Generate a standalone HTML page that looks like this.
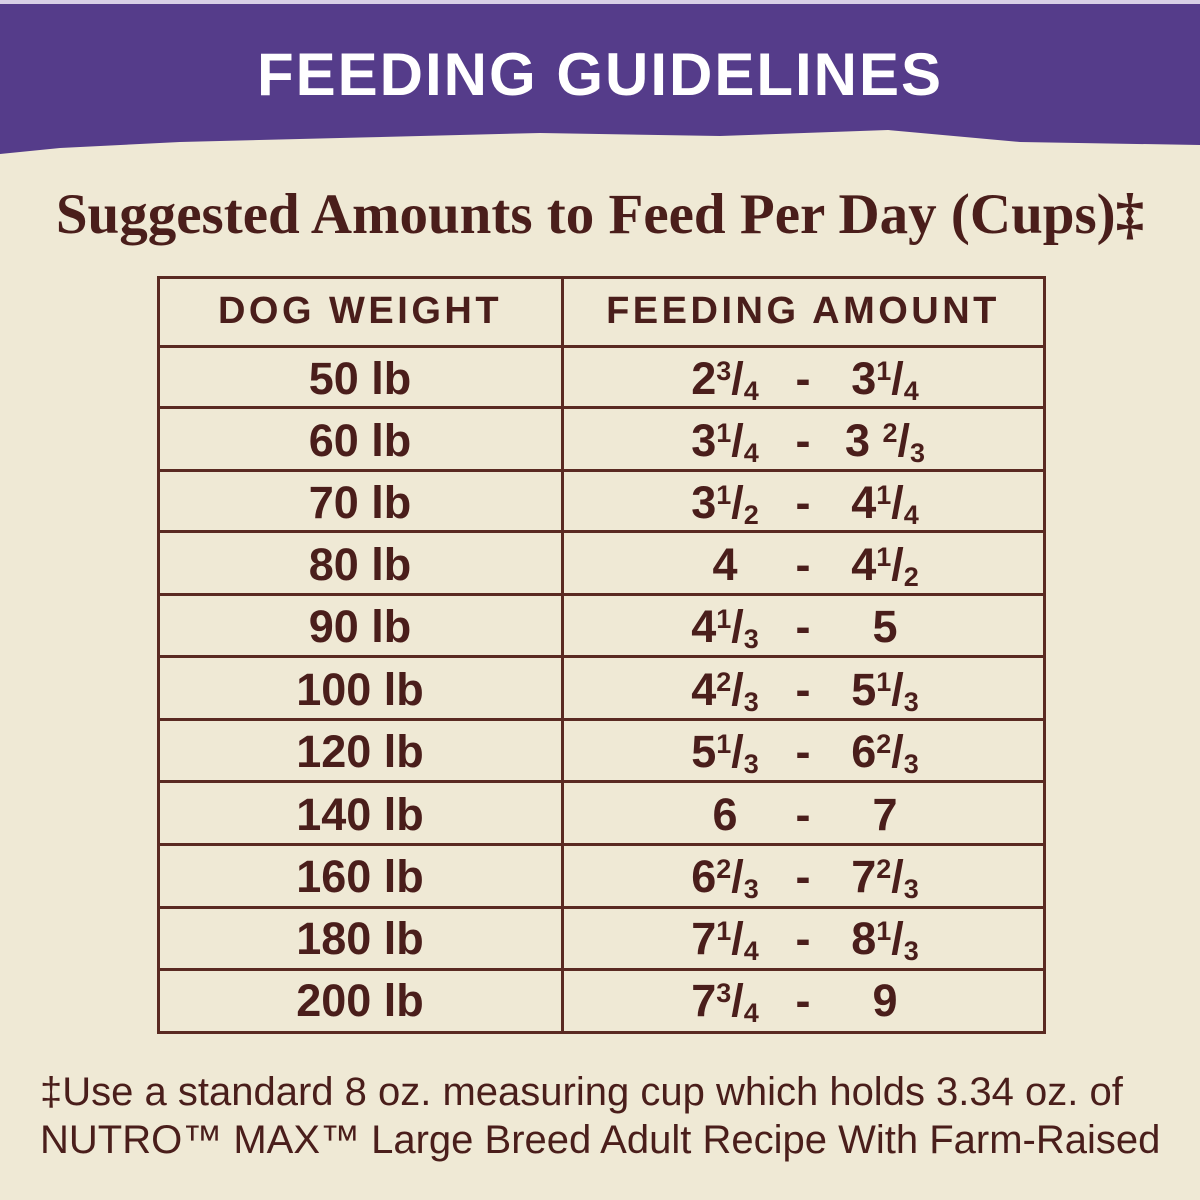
<!DOCTYPE html>
<html><head><meta charset="utf-8"><style>
body{margin:0;width:1200px;height:1200px;background:#efe9d5;position:relative;overflow:hidden;font-family:"Liberation Sans",sans-serif;color:#4a1e1b}
.top{position:absolute;left:0;top:0;width:1200px;height:5px;background:#d8cfe6}
.band{position:absolute;left:0;top:4px;width:1200px;height:150px;background:#553c8a;clip-path:polygon(0 0,100% 0,100% 94%,85% 92%,74% 84%,60% 88%,45% 86%,30% 89%,15% 92%,5% 96%,0 100%)}
.t{position:absolute;left:0;width:1200px;text-align:center;top:40px;font-size:60px;font-weight:bold;color:#fff;letter-spacing:2px}
.sub{position:absolute;left:0;width:1200px;text-align:center;top:182px;font-family:"Liberation Serif",serif;font-size:57px;font-weight:bold;color:#4a1e1b}
.tb{position:absolute;left:157px;top:276px;width:883px;height:752px;border:3px solid #5a2a22}
.v{position:absolute;left:561px;top:276px;width:3px;height:755px;background:#5a2a22}
.h{position:absolute;left:157px;width:886px;height:3px;background:#5a2a22}
.c{position:absolute;text-align:center;font-size:45px;font-weight:bold}
.hd{font-size:38px;font-weight:bold;letter-spacing:3.5px}
sup{font-size:27px;vertical-align:14px}
sub{font-size:27px;vertical-align:-6px}
.foot{position:absolute;left:40px;top:1068px;font-size:40px;line-height:48px;white-space:nowrap}
</style></head><body>
<div class="top"></div><div class="band"></div>
<div class="t">FEEDING GUIDELINES</div>
<div class="sub">Suggested Amounts to Feed Per Day (Cups)‡</div>
<div class="tb"></div><div class="v"></div>
<div class="h" style="top:345px"></div><div class="h" style="top:406px"></div><div class="h" style="top:469px"></div><div class="h" style="top:530px"></div><div class="h" style="top:593px"></div><div class="h" style="top:655px"></div><div class="h" style="top:718px"></div><div class="h" style="top:780px"></div><div class="h" style="top:843px"></div><div class="h" style="top:906px"></div><div class="h" style="top:968px"></div>
<div class="c hd" style="left:160px;width:400px;top:290px">DOG WEIGHT</div>
<div class="c hd" style="left:564px;width:478px;top:290px">FEEDING AMOUNT</div>
<div style="position:absolute;left:0;top:0">
<div class="c" style="left:160px;width:400px;top:353px">50 lb</div>
<div class="c" style="left:160px;width:400px;top:415px">60 lb</div>
<div class="c" style="left:160px;width:400px;top:477px">70 lb</div>
<div class="c" style="left:160px;width:400px;top:539px">80 lb</div>
<div class="c" style="left:160px;width:400px;top:601px">90 lb</div>
<div class="c" style="left:160px;width:400px;top:664px">100 lb</div>
<div class="c" style="left:160px;width:400px;top:726px">120 lb</div>
<div class="c" style="left:160px;width:400px;top:789px">140 lb</div>
<div class="c" style="left:160px;width:400px;top:851px">160 lb</div>
<div class="c" style="left:160px;width:400px;top:913px">180 lb</div>
<div class="c" style="left:160px;width:400px;top:975px">200 lb</div>

<div class="c" style="left:645px;width:160px;top:353px">2<sup>3</sup>/<sub>4</sub></div>
<div class="c" style="left:645px;width:160px;top:415px">3<sup>1</sup>/<sub>4</sub></div>
<div class="c" style="left:645px;width:160px;top:477px">3<sup>1</sup>/<sub>2</sub></div>
<div class="c" style="left:645px;width:160px;top:539px">4</div>
<div class="c" style="left:645px;width:160px;top:601px">4<sup>1</sup>/<sub>3</sub></div>
<div class="c" style="left:645px;width:160px;top:664px">4<sup>2</sup>/<sub>3</sub></div>
<div class="c" style="left:645px;width:160px;top:726px">5<sup>1</sup>/<sub>3</sub></div>
<div class="c" style="left:645px;width:160px;top:789px">6</div>
<div class="c" style="left:645px;width:160px;top:851px">6<sup>2</sup>/<sub>3</sub></div>
<div class="c" style="left:645px;width:160px;top:913px">7<sup>1</sup>/<sub>4</sub></div>
<div class="c" style="left:645px;width:160px;top:975px">7<sup>3</sup>/<sub>4</sub></div>

<div class="c" style="left:783px;width:40px;top:353px">-</div>
<div class="c" style="left:783px;width:40px;top:415px">-</div>
<div class="c" style="left:783px;width:40px;top:477px">-</div>
<div class="c" style="left:783px;width:40px;top:539px">-</div>
<div class="c" style="left:783px;width:40px;top:601px">-</div>
<div class="c" style="left:783px;width:40px;top:664px">-</div>
<div class="c" style="left:783px;width:40px;top:726px">-</div>
<div class="c" style="left:783px;width:40px;top:789px">-</div>
<div class="c" style="left:783px;width:40px;top:851px">-</div>
<div class="c" style="left:783px;width:40px;top:913px">-</div>
<div class="c" style="left:783px;width:40px;top:975px">-</div>

<div class="c" style="left:805px;width:160px;top:353px">3<sup>1</sup>/<sub>4</sub></div>
<div class="c" style="left:805px;width:160px;top:415px">3 <sup>2</sup>/<sub>3</sub></div>
<div class="c" style="left:805px;width:160px;top:477px">4<sup>1</sup>/<sub>4</sub></div>
<div class="c" style="left:805px;width:160px;top:539px">4<sup>1</sup>/<sub>2</sub></div>
<div class="c" style="left:805px;width:160px;top:601px">5</div>
<div class="c" style="left:805px;width:160px;top:664px">5<sup>1</sup>/<sub>3</sub></div>
<div class="c" style="left:805px;width:160px;top:726px">6<sup>2</sup>/<sub>3</sub></div>
<div class="c" style="left:805px;width:160px;top:789px">7</div>
<div class="c" style="left:805px;width:160px;top:851px">7<sup>2</sup>/<sub>3</sub></div>
<div class="c" style="left:805px;width:160px;top:913px">8<sup>1</sup>/<sub>3</sub></div>
<div class="c" style="left:805px;width:160px;top:975px">9</div>
</div>
<div class="foot">‡Use a standard 8 oz. measuring cup which holds 3.34 oz. of<br>NUTRO™ MAX™ Large Breed Adult Recipe With Farm-Raised</div>
</body></html>
